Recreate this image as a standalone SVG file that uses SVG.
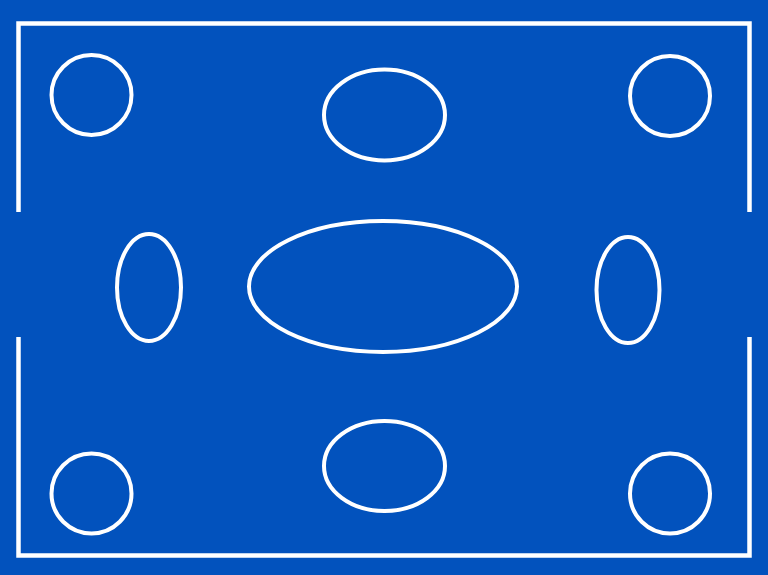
<svg xmlns="http://www.w3.org/2000/svg" width="768" height="575" viewBox="0 0 768 575">
<style>
.s{fill:none;stroke:#ffffff;stroke-width:4}
.b{fill:none;stroke:#ffffff;stroke-width:4.5}
</style>
<rect x="0" y="0" width="768" height="575" fill="#0252BD"/>
<g id="border">
<polyline class="b" points="18.5,212 18.5,23.5 749.5,23.5 749.5,212"/>
<polyline class="b" points="18.5,337 18.5,555.5 749.5,555.5 749.5,337"/>
</g>
<g id="circle-tl"><circle class="s" cx="91.5" cy="95" r="40"/></g>
<g id="circle-tr"><circle class="s" cx="670" cy="96" r="40"/></g>
<g id="circle-bl"><circle class="s" cx="91.5" cy="493.5" r="40"/></g>
<g id="circle-br"><circle class="s" cx="670" cy="493.5" r="40"/></g>
<g id="ellipse-top"><ellipse class="s" cx="384.5" cy="115" rx="60.5" ry="45.5"/></g>
<g id="ellipse-bottom"><ellipse class="s" cx="384.5" cy="466" rx="60.5" ry="45"/></g>
<g id="ellipse-left"><ellipse class="s" cx="149" cy="287.5" rx="32" ry="53.5"/></g>
<g id="ellipse-right"><ellipse class="s" cx="628" cy="290" rx="31.5" ry="53"/></g>
<g id="ellipse-center"><ellipse class="s" cx="383" cy="286.5" rx="134" ry="65.5"/></g>
</svg>
